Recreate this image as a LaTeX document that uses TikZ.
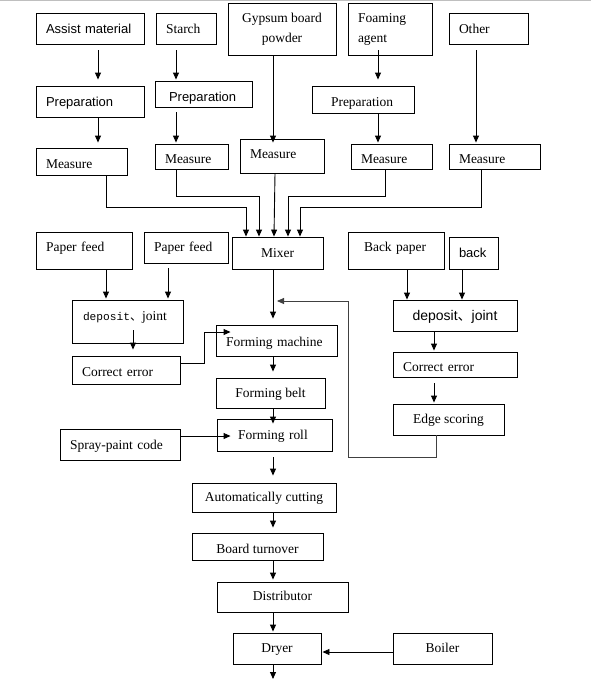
\documentclass[tikz,border=0pt]{standalone}
\usepackage{fontspec}
\setmainfont{Liberation Serif}
\newfontfamily\sfA{Liberation Sans}
\newfontfamily\monoA{Liberation Mono}
\newfontfamily\cjkA{Noto Sans CJK SC}
\usetikzlibrary{arrows.meta}
\begin{document}
\begin{tikzpicture}[x=1pt,y=-1pt,
  bx/.style={draw, line width=0.9pt, inner ysep=0pt, inner xsep=0pt, align=center,
             font=\fontsize{13.5}{20}\selectfont},
  lbx/.style={bx, align=left},
  sfx/.style={font=\sfA\fontsize{13}{16}\selectfont},
  tl/.style={text height=#1, text depth=0pt},
  arr/.style={line width=0.9pt, -{Triangle[length=7pt,width=6pt]}},
  fbline/.style={line width=0.9pt, draw=black!75, -{Triangle[length=7pt,width=6pt]}}]
\useasboundingbox (0,0) rectangle (591,681);
\draw[black!25, line width=1.2pt] (0,0.6) -- (591,0.6);

% row 1
\node[lbx, sfx, tl=10.3pt, minimum width=108pt, minimum height=31pt, text width=88pt, inner xsep=10pt] (am) at (90,28.5) {Assist material};
\node[lbx, tl=9.8pt, minimum width=60pt, minimum height=31pt, text width=40pt, inner xsep=10pt] (st) at (186,28.5) {Starch};
\node[bx, minimum width=108pt, minimum height=52pt] (gy) at (282,29) {Gypsum board\\powder};
\node[lbx, minimum width=84pt, minimum height=52pt, text width=64pt, inner xsep=10pt] (fa) at (390,29) {Foaming\\agent};
\node[lbx, tl=9.8pt, minimum width=79pt, minimum height=31pt, text width=59pt, inner xsep=10pt] (ot) at (488.5,28.5) {Other};

% row 2
\node[lbx, sfx, tl=10.3pt, minimum width=108pt, minimum height=31pt, text width=88pt, inner xsep=10pt] (p1) at (90,101.5) {Preparation};
\node[lbx, sfx, tl=15.3pt, minimum width=97pt, minimum height=26pt, text width=69pt, inner xsep=14pt] (p2) at (203.5,94) {Preparation};
\node[lbx, tl=13.8pt, minimum width=102pt, minimum height=27pt, text width=64pt, inner xsep=19pt] (p4) at (363,99.5) {Preparation};

% row 3
\node[lbx, tl=13.8pt, minimum width=91pt, minimum height=27pt, text width=71pt, inner xsep=10pt] (m1) at (81.5,161.5) {Measure};
\node[lbx, tl=13.8pt, minimum width=73pt, minimum height=25pt, text width=53pt, inner xsep=10pt] (m2) at (191.5,156.5) {Measure};
\node[lbx, tl=4.8pt, minimum width=84pt, minimum height=34pt, text width=64pt, inner xsep=10pt] (m3) at (282,156) {Measure};
\node[lbx, tl=13.8pt, minimum width=81pt, minimum height=25pt, text width=61pt, inner xsep=10pt] (m4) at (391.5,156.5) {Measure};
\node[lbx, tl=13.8pt, minimum width=91pt, minimum height=25pt, text width=71pt, inner xsep=10pt] (m5) at (494.5,156.5) {Measure};

% mixer row
\node[bx, tl=8.8pt, minimum width=91pt, minimum height=32pt] (mx) at (277.5,253) {Mixer};
\node[lbx, tl=1.8pt, minimum width=96pt, minimum height=37pt, text width=76pt, inner xsep=10pt] (pf1) at (84,250.5) {Paper feed};
\node[lbx, tl=7.8pt, minimum width=84pt, minimum height=31pt, text width=64pt, inner xsep=10pt] (pf2) at (186,247.5) {Paper feed};
\node[lbx, tl=1.8pt, minimum width=96pt, minimum height=37pt, text width=64pt, inner xsep=16pt] (bp) at (396,250.5) {Back paper};
\node[lbx, sfx, tl=9.3pt, minimum width=49pt, minimum height=32pt, text width=29pt, inner xsep=10pt] (bk) at (473.5,253) {back};

% left paper branch
\node[lbx, text height=0pt, text depth=2.2pt, minimum width=111pt, minimum height=43pt, text width=89pt, inner xsep=11pt] (d1) at (127.5,321.5)
  {{\monoA\fontsize{11.2}{14}\selectfont deposit}{\cjkA\fontsize{12}{14}\selectfont 、}joint};
\node[lbx, tl=12.8pt, minimum width=108pt, minimum height=28pt, text width=88pt, inner xsep=10pt] (ce1) at (126,370) {Correct error};
\node[lbx, tl=9.8pt, minimum width=120pt, minimum height=31pt, text width=100pt, inner xsep=10pt] (sp) at (120,444.5) {Spray-paint code};

% main line
\node[lbx, tl=11.8pt, minimum width=121pt, minimum height=31pt, text width=101pt, inner xsep=10pt] (fm) at (276.5,340.5) {Forming machine};
\node[bx, tl=8.8pt, minimum width=109pt, minimum height=30pt] (fb) at (270.5,393) {Forming belt};
\node[lbx, tl=8.8pt, minimum width=115pt, minimum height=32pt, text width=73pt, inner xsep=21pt] (fr) at (274.5,435) {Forming roll};
\node[bx, tl=8.8pt, minimum width=144pt, minimum height=29pt] (ac) at (264,497.5) {Automatically cutting};
\node[bx, tl=13.8pt, minimum width=131pt, minimum height=27pt] (bt) at (257.5,546.5) {Board turnover};
\node[bx, tl=6.8pt, minimum width=131pt, minimum height=30pt] (di) at (282.5,597) {Distributor};
\node[bx, tl=8.8pt, minimum width=88pt, minimum height=31pt] (dr) at (277,648.5) {Dryer};
\node[bx, tl=8.8pt, minimum width=99pt, minimum height=31pt] (bo) at (442.5,648.5) {Boiler};

% right paper branch
\node[bx, tl=10pt, minimum width=124pt, minimum height=31pt, font=\sfA\fontsize{14}{16}\selectfont] (d2) at (455,315.5)
  {deposit{\cjkA 、}joint};
\node[lbx, tl=13.8pt, minimum width=124pt, minimum height=25pt, text width=104pt, inner xsep=10pt] (ce2) at (455,364.5) {Correct error};
\node[bx, tl=7.8pt, minimum width=111pt, minimum height=31pt] (es) at (448.5,419.5) {Edge scoring};

\coordinate (join) at (277,301);
\coordinate (out) at (273,679);

% arrows row1 -> row2/3
\draw[arr] ([xshift=8pt,yshift=-6pt]am.south) -- ([xshift=8pt,yshift=6pt]p1.north);
\draw[arr] ([xshift=-10pt,yshift=-6pt]st.south) -- ([xshift=-27.5pt,yshift=1pt]p2.north);
\draw[arr] ([xshift=-12pt,yshift=5pt]fa.south) -- ([xshift=15pt,yshift=6pt]p4.north);
\draw[arr] ([xshift=-9pt]gy.south) -- ([xshift=-9pt,yshift=-4pt]m3.north);
\draw[arr] ([xshift=-12.5pt,yshift=-6pt]ot.south) -- ([xshift=-18.5pt,yshift=1pt]m5.north);
\draw[arr] ([xshift=8pt]p1.south) -- ([xshift=16.5pt,yshift=5pt]m1.north);
\draw[arr] ([xshift=-27.5pt,yshift=-5pt]p2.south) -- ([xshift=-15.5pt,yshift=1pt]m2.north);
\draw[arr] ([xshift=15pt]p4.south) -- ([xshift=-13.5pt,yshift=1pt]m4.north);

% measures -> mixer
\draw[arr] ([xshift=24.5pt]m1.south) -- ++(0,32) -| ([xshift=-31.5pt]mx.north);
\draw[arr] ([xshift=-15.5pt]m2.south) -- ++(0,27) -| ([xshift=-18.5pt]mx.north);
\draw[arr] ([xshift=-7pt]m3.south) -- ([xshift=-3.5pt]mx.north);
\draw[arr] ([xshift=-6.5pt]m4.south) -- ++(0,27) -| ([xshift=10.5pt]mx.north);
\draw[arr] ([xshift=-13.5pt]m5.south) -- ++(0,38) -| ([xshift=22.5pt]mx.north);

% paper feeds
\draw[arr] ([xshift=22pt]pf1.south) -- ([xshift=-21.5pt,yshift=1pt]d1.north);
\draw[arr] ([xshift=-18pt,yshift=-5pt]pf2.south) -- ([xshift=40.5pt,yshift=1pt]d1.north);
\draw[arr] ([xshift=5.5pt,yshift=13pt]d1.south) -- ([xshift=7pt,yshift=6pt]ce1.north);
\draw[arr] ([yshift=7pt]ce1.east) -- ++(24,0) |- ([xshift=15pt,yshift=8.5pt]fm.west);
\draw[arr] ([yshift=8.5pt]sp.east) -- ([xshift=14pt,yshift=-1pt]fr.west);

% main line
\draw[arr] ([xshift=-4.5pt]mx.south) -- ([xshift=-3.5pt,yshift=6pt]fm.north);
\draw[arr] ([xshift=-3.5pt]fm.south) -- ([xshift=2.5pt,yshift=6pt]fb.north);
\draw[arr] ([xshift=2.5pt]fb.south) -- ([xshift=-1.5pt,yshift=-5pt]fr.north);
\draw[arr] ([xshift=-1.5pt,yshift=-6pt]fr.south) -- ([xshift=9pt,yshift=7pt]ac.north);
\draw[arr] ([xshift=9pt]ac.south) -- ([xshift=15.5pt,yshift=5pt]bt.north);
\draw[arr] ([xshift=15.5pt]bt.south) -- ([xshift=-9.5pt,yshift=2pt]di.north);
\draw[arr] ([xshift=-9.5pt]di.south) -- ([xshift=-4pt,yshift=1pt]dr.north);
\draw[arr] ([yshift=-3.5pt]bo.west) -- ([xshift=1pt,yshift=-3.5pt]dr.east);
\draw[arr] ([xshift=-4pt]dr.south) -- (out);

% right branch
\draw[arr] ([xshift=11pt]bp.south) -- ([xshift=-48pt]d2.north);
\draw[arr] ([xshift=-11.5pt]bk.south) -- ([xshift=7pt]d2.north);
\draw[arr] ([xshift=-21pt]d2.south) -- ([xshift=-21pt,yshift=1pt]ce2.north);
\draw[arr] ([xshift=-21pt,yshift=-6pt]ce2.south) -- ([xshift=-14.5pt,yshift=1pt]es.north);
\draw[fbline] ([xshift=-12.5pt]es.south) -- ++(0,22) -- ++(-88,0) |- (join);
\end{tikzpicture}
\end{document}
